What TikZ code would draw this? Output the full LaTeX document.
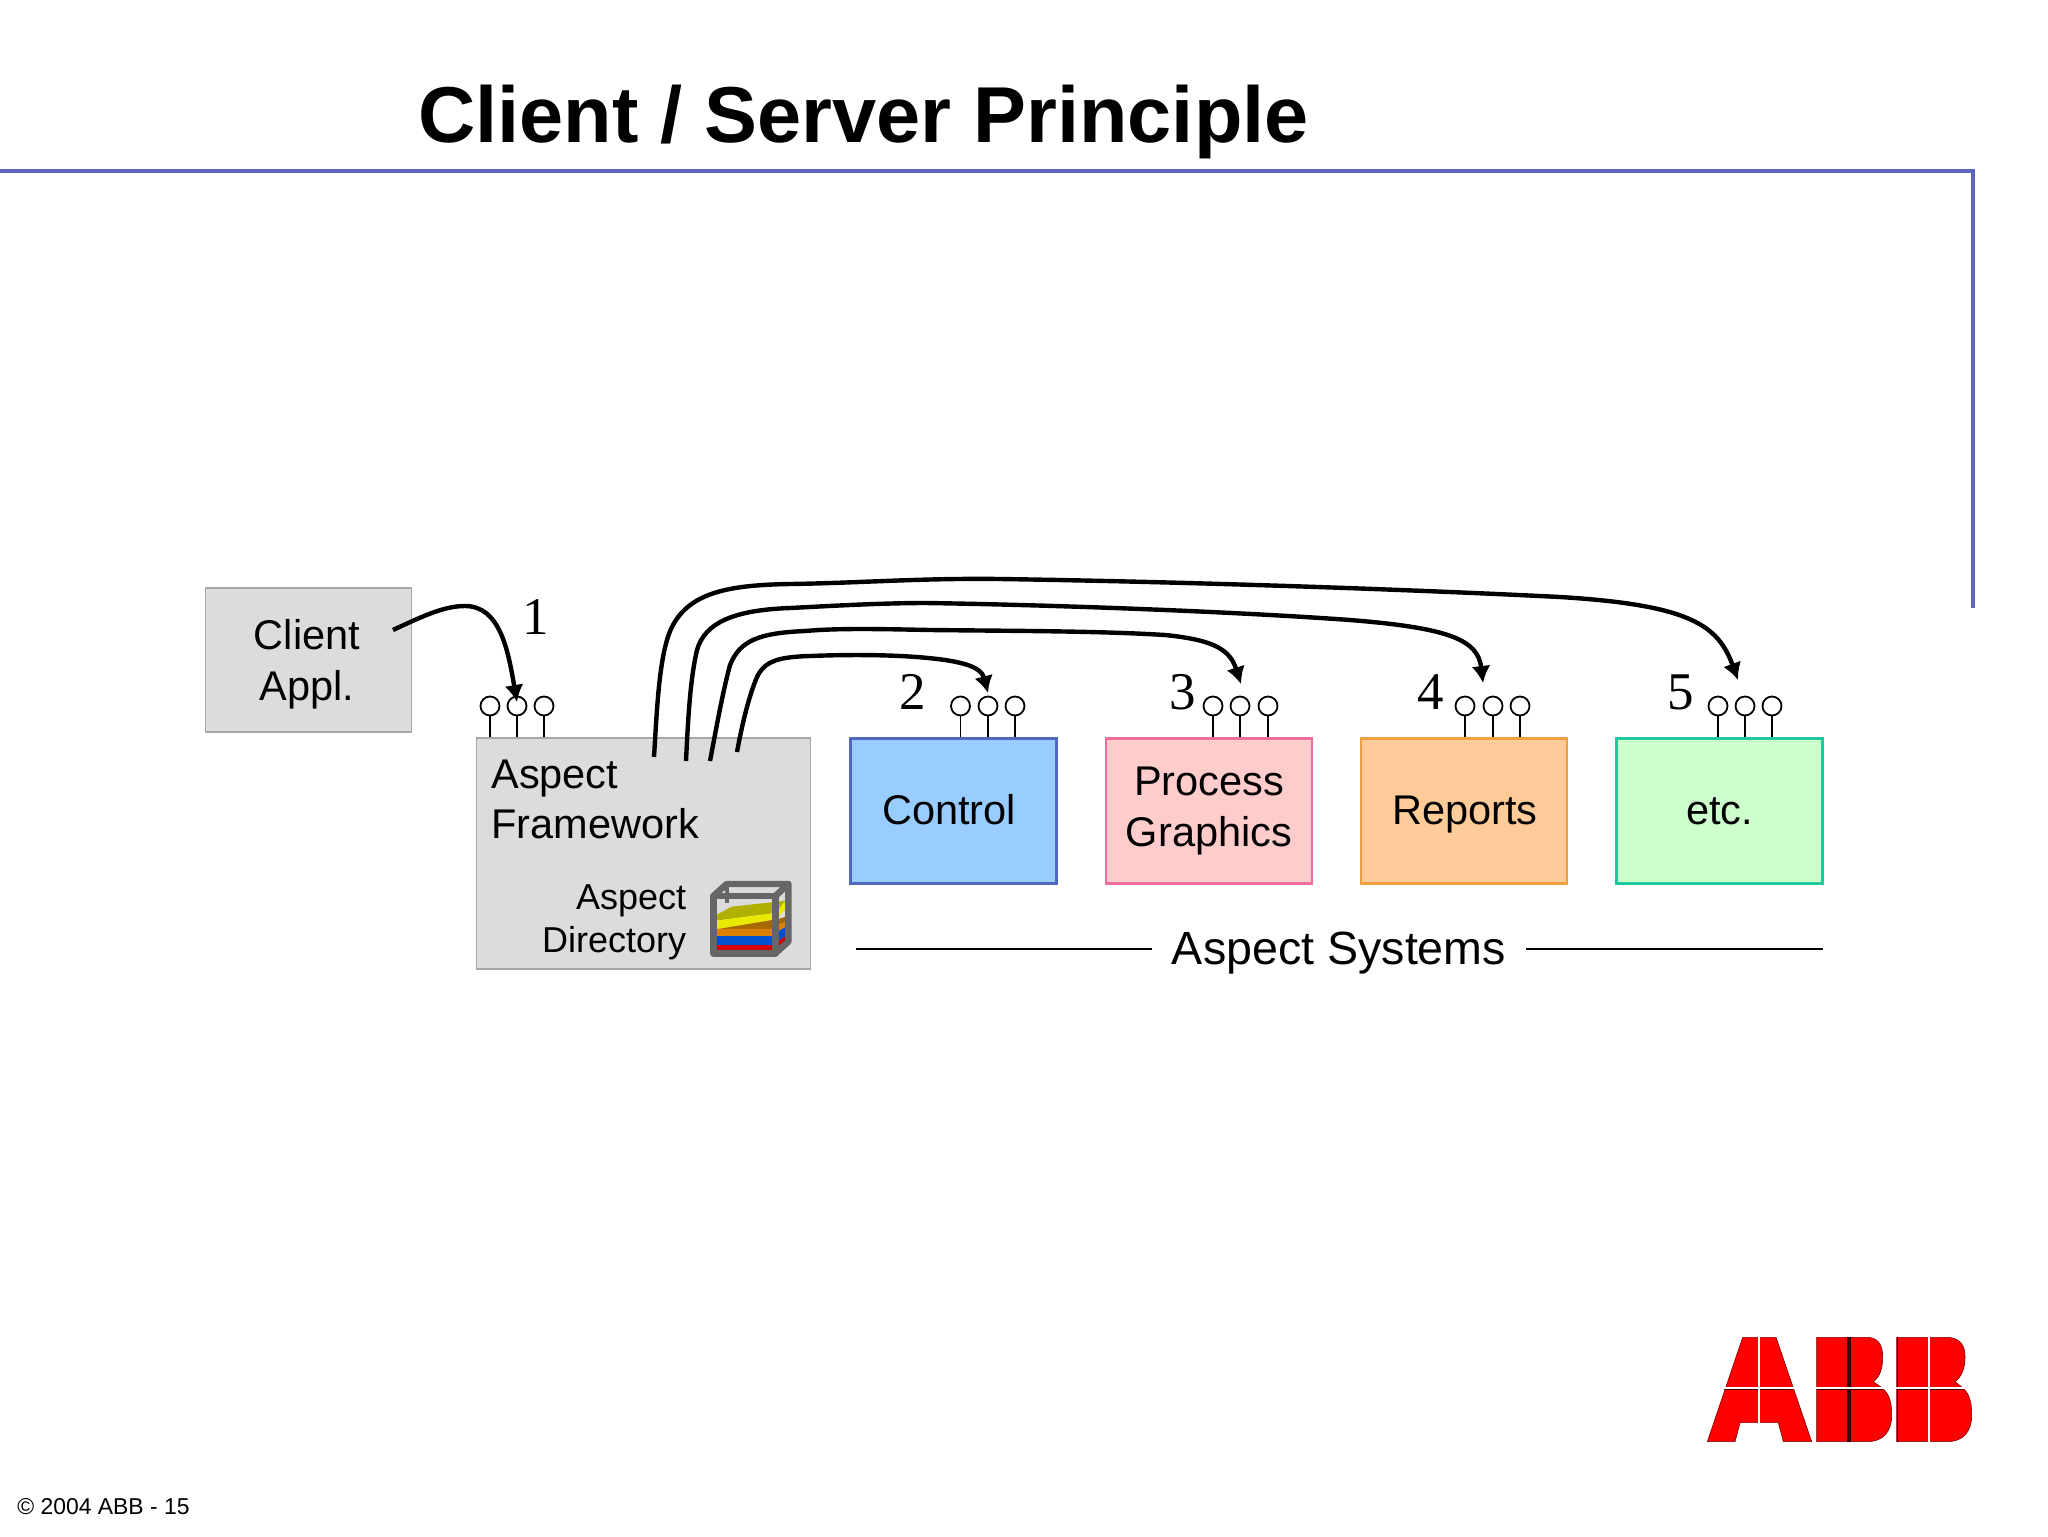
\documentclass[tikz,border=0pt]{standalone}
\usepackage{fontspec}
\setmainfont{Liberation Sans}
\newfontfamily\numfont{Liberation Serif}
\usetikzlibrary{arrows.meta,calc}
\definecolor{rule}{HTML}{5F66BF}
\definecolor{grayfill}{HTML}{DCDCDC}
\definecolor{graydraw}{HTML}{A6A6A6}
\definecolor{abbred}{HTML}{FF0000}
\definecolor{abbedge}{HTML}{800000}
\definecolor{ctrlfill}{HTML}{99CCFF}
\definecolor{ctrldraw}{HTML}{5068C0}
\definecolor{pgfill}{HTML}{FFCCCC}
\definecolor{pgdraw}{HTML}{F06C9B}
\definecolor{repfill}{HTML}{FFCC99}
\definecolor{repdraw}{HTML}{F0A040}
\definecolor{etcfill}{HTML}{CCFFCC}
\definecolor{etcdraw}{HTML}{20C8A0}
\definecolor{cubeolive}{HTML}{B0B000}
\definecolor{cubeyellow}{HTML}{E8E800}
\definecolor{cubebrown}{HTML}{A86800}
\definecolor{cubeorange}{HTML}{DC8000}
\definecolor{cubeblue}{HTML}{0050D0}
\definecolor{cubered}{HTML}{D00000}
\definecolor{cubegray}{HTML}{666666}
\tikzset{
  sysbox/.style n args={2}{draw=#1,fill=#2,line width=1.2pt,minimum width=103pt,minimum height=72.5pt,inner sep=0pt},
  graybox/.style={draw=graydraw,fill=grayfill,line width=.8pt,inner sep=0pt},
  pinhead/.style={circle,draw=black,fill=white,line width=.9pt,minimum size=9.5pt,inner sep=0pt},
  stem/.style={draw=black,line width=.9pt},
  flow/.style={line width=2.2pt,line cap=butt,-{Latex[length=8.5pt,width=9.5pt]}},
  numlabel/.style={anchor=base,inner sep=0pt,font=\numfont\fontsize{26.5}{30}\selectfont},
  plain/.style={inner sep=0pt,font=\fontsize{20.75}{25.5}\selectfont},
  small/.style={anchor=base east,inner sep=0pt,font=\fontsize{18}{22}\selectfont},
  ctext/.style={plain,anchor=base},
}
\begin{document}
\begin{tikzpicture}[x=0.5pt,y=-0.5pt]
\useasboundingbox (0,0) rectangle (2048,1536);
% title and frame line
\node[anchor=base west,inner sep=0pt,font=\bfseries\fontsize{39.65}{48}\selectfont] (title) at (418,142) {Client / Server Principle};
\coordinate (ruleL) at (0,171);
\coordinate (ruleR) at (1973,171);
\coordinate (ruleB) at (1973,608);
\draw[rule,line width=2.2pt,line join=miter] (ruleL) -- (ruleR) -- (ruleB);
% boxes
\node[graybox,minimum width=103pt,minimum height=72pt] (client) at (308.5,660) {};
\node[graybox,minimum width=167pt,minimum height=115.5pt] (af) at (643.5,853.5) {};
\node[sysbox={ctrldraw}{ctrlfill}] (control) at (953.5,811) {};
\node[sysbox={pgdraw}{pgfill}] (graphics) at (1209,811) {};
\node[sysbox={repdraw}{repfill}] (reports) at (1464,811) {};
\node[sysbox={etcdraw}{etcfill}] (etc) at (1719.5,811) {};
% box texts
\node[ctext] (cla) at (307,649.5) {Client};
\node[ctext] (clb) at (307,700.5) {Appl.};
\node[ctext] (ctl) at (949,824) {Control};
\node[ctext] (pga) at (1209,795) {Process};
\node[ctext] (pgb) at (1209,846) {Graphics};
\node[ctext] (rep) at (1465,824) {Reports};
\node[ctext] (etx) at (1719.5,824) {etc.};
% texts in the framework box
\node[plain,anchor=base west] (afa) at (491,788) {Aspect};
\node[plain,anchor=base west] (afb) at (491,838) {Framework};
\node[small] (ada) at (686.5,909) {Aspect};
\node[small] (adb) at (686.5,952) {Directory};
% pins
\foreach \nm/\x/\bx in {pAa/490/af,pAb/517/af,pAc/544/af,
  pCa/960.5/control,pCb/988/control,pCc/1015/control,
  pGa/1213/graphics,pGb/1240/graphics,pGc/1268/graphics,
  pRa/1465/reports,pRb/1493/reports,pRc/1520/reports,
  pEa/1718/etc,pEb/1745/etc,pEc/1772/etc}{
  \node[pinhead] (\nm) at (\x,706) {};
  \draw[stem] (\nm.south) -- (\nm.south |- \bx.north);
}
% numbers
\node[numlabel] (n1) at (535.5,634) {1};
\node[numlabel] (n2) at (912.5,709) {2};
\node[numlabel] (n3) at (1183,709) {3};
\node[numlabel] (n4) at (1431,709) {4};
\node[numlabel] (n5) at (1681,709) {5};
% connectors
\coordinate (s1) at (393,630);
\coordinate (s2) at (737,752);
\coordinate (s3) at (710,761);
\coordinate (s4) at (686,761);
\coordinate (s5) at (654,757);
\coordinate (t1) at ([shift={(0,-4)}]pAb.center);
\coordinate (t2) at ([shift={(0,-13)}]pCb.center);
\coordinate (t3) at ([shift={(1,-22)}]pGb.center);
\coordinate (t4) at ([shift={(-10,-23)}]pRb.center);
\coordinate (t5) at ([shift={(-7,-26)}]pEb.center);
\draw[flow] (s1) .. controls (425,615) and (445,606) .. (465,606) .. controls (500,606) and (508,650) .. (t1);
\draw[flow] (s2) .. controls (742,725) and (748,700) .. (755,682) .. controls (762,662) and (775,657) .. (810,656) .. controls (860,654) and (910,655) .. (945,660) .. controls (972,664) and (982,670) .. (t2);
\draw[flow] (s3) .. controls (716,730) and (722,695) .. (730,665) .. controls (740,640) and (760,633) .. (805,631) .. controls (840,628) and (880,629) .. (930,630) .. controls (1020,631) and (1100,631) .. (1165,635) .. controls (1215,640) and (1230,650) .. (t3);
\draw[flow] (s4) .. controls (688,720) and (690,680) .. (697,650) .. controls (705,622) and (735,610) .. (790,608) .. controls (830,606) and (880,603) .. (926,603) .. controls (1060,605) and (1240,612) .. (1350,620) .. controls (1450,628) and (1478,640) .. (t4);
\draw[flow] (s5) .. controls (657,710) and (659,650) .. (673,625) .. controls (691,592) and (730,585) .. (790,584) .. controls (860,583) and (920,578) .. (1000,579) .. controls (1200,582) and (1420,590) .. (1560,597) .. controls (1690,605) and (1718,625) .. (t5);
% Aspect Systems
\node[inner ysep=0pt,inner xsep=10pt,anchor=base,font=\fontsize{23.3}{28}\selectfont] (as) at (1339,964) {Aspect Systems};
\coordinate (asl) at (856,949);
\coordinate (asr) at (1823,949);
\draw[line width=1pt] (asl) -- (as.west |- asl);
\draw[line width=1pt] (as.east |- asr) -- (asr);
% directory cube icon
\begin{scope}[shift={(700,860)},x=.16667pt,y=-.16667pt]
  \fill[cubegray] (76,75) rectangle (88,130);
  \fill[cubeolive] (48,165) -- (95,140) -- (258,122) -- (235,148) -- (217,160) -- (48,182) -- cycle;
  \fill[cubeyellow] (48,182) -- (217,160) -- (217,180) -- (48,208) -- cycle;
  \fill[cubeyellow] (232,150) -- (258,122) -- (258,145) -- (232,175) -- cycle;
  \fill[cubebrown] (48,208) -- (217,180) -- (217,208) -- cycle;
  \fill[cubebrown] (232,178) -- (258,170) -- (258,185) -- (232,195) -- cycle;
  \fill[cubeorange] (48,208) rectangle (217,228);
  \fill[cubeorange] (232,195) -- (258,185) -- (258,200) -- (232,215) -- cycle;
  \fill[cubeblue] (48,228) rectangle (217,255);
  \fill[cubeblue] (232,215) -- (258,200) -- (258,228) -- (232,245) -- cycle;
  \fill[cubered] (48,255) rectangle (217,270);
  \fill[cubered] (232,245) -- (258,228) -- (258,240) -- (232,262) -- cycle;
  \draw[cubegray,line width=3.2pt,line join=round] (40,108) rectangle (226,280);
  \draw[cubegray,line width=3.2pt,line join=round] (40,108) -- (80,72) -- (265,72) -- (226,108) (265,72) -- (265,245) -- (226,280);
\end{scope}
% ABB logo
\begin{scope}[shift={(1700,1320)},x=.16667pt,y=-.16667pt]
  \filldraw[fill=abbred,draw=abbedge,line width=.3pt] (128,52) -- (228,52) -- (335,365) -- (250,365) -- (235,308) -- (120,308) -- (105,365) -- (22,365) -- cycle;
  \filldraw[fill=abbred,draw=abbedge,line width=.3pt] (350,52) -- (505,52) .. controls (535,55) and (548,75) .. (548,110) .. controls (548,145) and (540,170) .. (520,185) -- (548,205) .. controls (570,225) and (575,250) .. (575,285) .. controls (575,335) and (550,365) .. (500,365) -- (350,365) -- cycle;
  \filldraw[fill=abbred,draw=abbedge,line width=.3pt] (590,52) -- (745,52) .. controls (780,55) and (795,75) .. (795,110) .. controls (795,145) and (785,170) .. (765,185) -- (790,205) .. controls (810,225) and (815,250) .. (815,285) .. controls (815,335) and (790,365) .. (740,365) -- (590,365) -- cycle;
  \draw[black!80!red,line width=1.8pt] (446,52) -- (446,200) (446,210) -- (446,365);
  \draw[black!80!red,line width=.8pt] (592,52) -- (592,200) (592,210) -- (592,365);
  \draw[black!70!red,line width=.6pt] (72,209) -- (280,209) (350,209) -- (550,209) (590,209) -- (790,209);
  \draw[white,line width=1pt] (0,204) -- (830,204);
  \draw[white,line width=1pt] (177,40) -- (177,308) (688,40) -- (688,370);
\end{scope}
% footer
\node[anchor=base west,inner sep=0pt,font=\fontsize{11.45}{14}\selectfont] (foot) at (17,1514) {© 2004 ABB - 15};
\end{tikzpicture}
\end{document}
